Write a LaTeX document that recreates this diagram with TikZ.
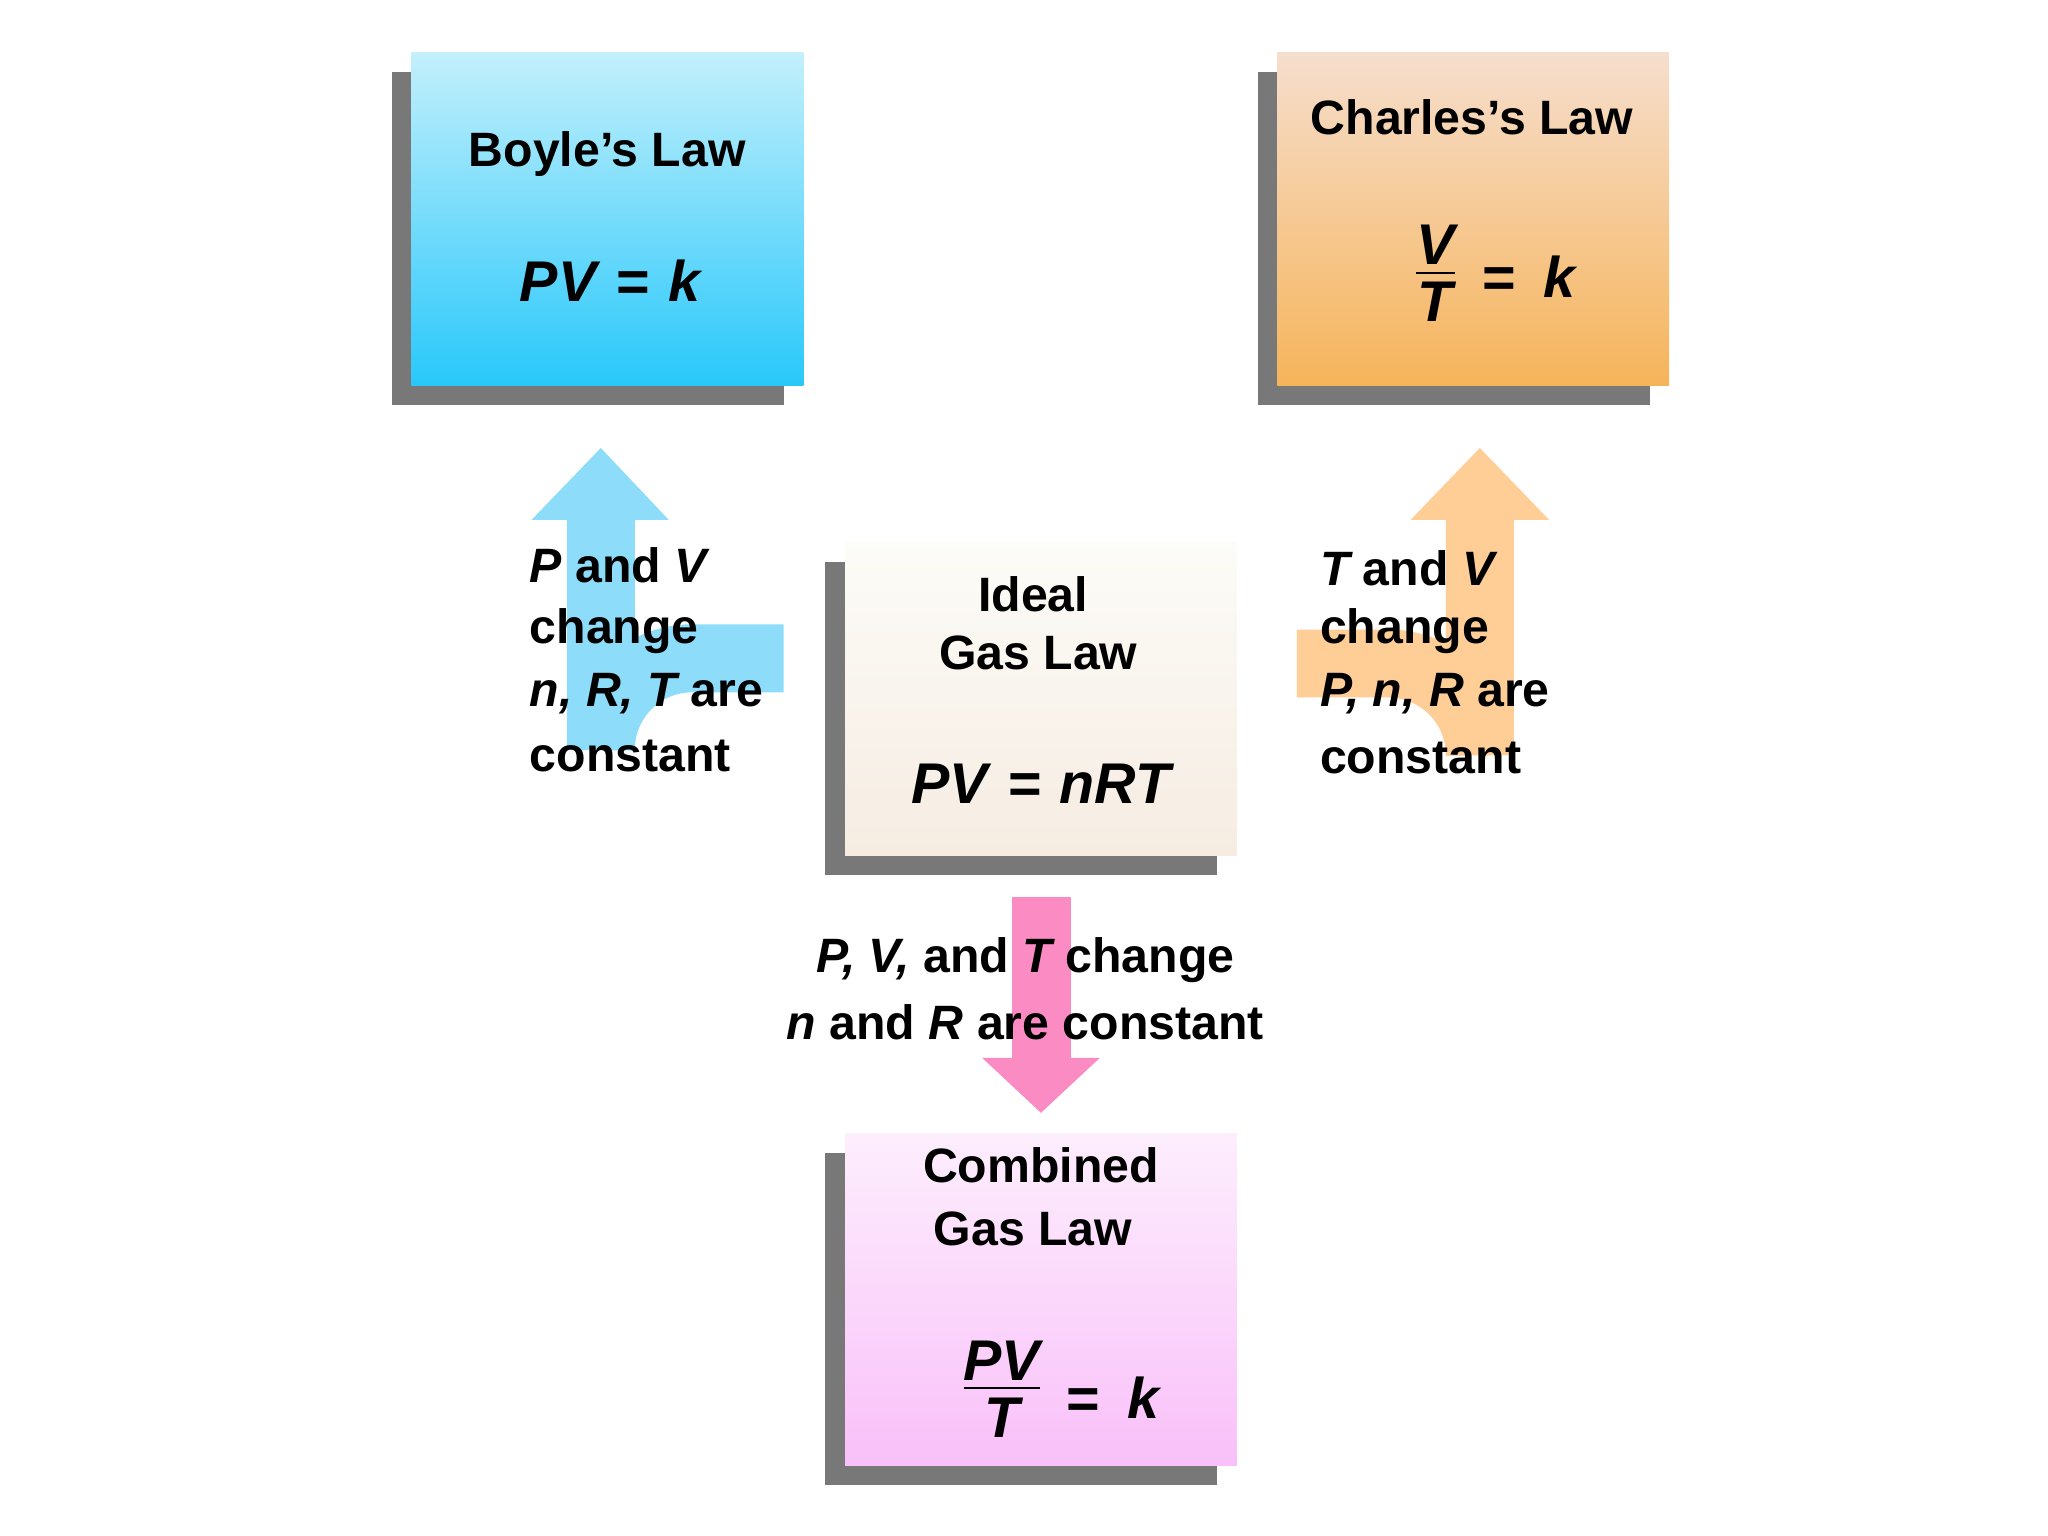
\documentclass[tikz,border=0pt]{standalone}
\usepackage{fontspec}
\setmainfont{Liberation Sans}
\usetikzlibrary{calc}
\definecolor{shad}{RGB}{120,120,120}
\definecolor{cyanA}{RGB}{195,240,252}
\definecolor{cyanB}{RGB}{40,200,250}
\definecolor{orA}{RGB}{246,222,205}
\definecolor{orB}{RGB}{246,180,90}
\definecolor{idA}{RGB}{252,252,248}
\definecolor{idB}{RGB}{246,236,226}
\definecolor{pkA}{RGB}{253,238,253}
\definecolor{pkB}{RGB}{249,192,249}
\definecolor{arC}{RGB}{140,220,250}
\definecolor{arO}{RGB}{255,205,150}
\definecolor{arP}{RGB}{250,140,195}
\tikzset{
 txt/.style={font=\fontsize{10.5}{13.6}\selectfont\bfseries, inner sep=0pt},
 eq/.style={font=\fontsize{12.5}{15}\selectfont\bfseries\itshape, inner sep=0pt},
 lbl/.style={font=\fontsize{10.5}{13.6}\selectfont\bfseries, inner sep=0pt, anchor=west},
}
\newcommand{\lawbox}[5]{% x1 y1 x2 y2 colorA colorB -> name
 \fill[shad] (#1-15,#2+15) rectangle (#3-15,#4+15);
}
\begin{document}
\begin{tikzpicture}[x=0.01cm,y=-0.01cm]
\useasboundingbox (0,0) rectangle (1568,1176);
\fill[white] (0,0) rectangle (1568,1176);
% shadows
\fill[shad] (300,55) rectangle (600,310);
\fill[shad] (963,55) rectangle (1263,310);
\fill[shad] (632,430) rectangle (932,670);
\fill[shad] (632,883) rectangle (932,1137);
% faces
\shade[top color=cyanA,bottom color=cyanB] (315,40) rectangle (615,295);
\shade[top color=orA,bottom color=orB] (978,40) rectangle (1278,295);
\shade[top color=idA,bottom color=idB] (647,415) rectangle (947,655);
\shade[top color=pkA,bottom color=pkB] (647,868) rectangle (947,1122);
% arrows
\draw[arC,line width=0.52cm] (600,504) -- (530,504) arc[start angle=270,end angle=180,radius=70] -- (460,396);
\fill[arC] (407,398) -- (512,398) -- (460,343) -- cycle;
\draw[arO,line width=0.52cm] (993,508) -- (1063,508) arc[start angle=270,end angle=360,radius=70] -- (1133,396);
\fill[arO] (1080,398) -- (1186,398) -- (1133,343) -- cycle;
\fill[arP] (775,687) rectangle (820,812);
\fill[arP] (752,810) -- (842,810) -- (797,852) -- cycle;
% texts
\node[txt] (boyle) at (465,118) {Boyle’s Law};
\node[eq] (boyleeq) at (467,215) {PV\,\,=\,\,k};
\node[txt] (charles) at (1127,90) {Charles’s Law};
\node[eq] (chfrac) at (1099,214) {\begin{tabular}{@{}c@{}}V\\[-3pt]\hline T\end{tabular}};
\node[eq] (cheq) at (1170,212) {=\,\,\,k};
\node[txt] (ideal1) at (791,455) {Ideal};
\node[txt] (ideal2) at (795,500) {Gas Law};
\node[eq] (idealeq) at (797,600) {PV\,\,=\,\,nRT};
\node[txt] (comb1) at (797,892) {Combined};
\node[txt] (comb2) at (791,941) {Gas Law};
\node[eq] (cfrac) at (767,1068) {\begin{tabular}{@{}c@{}}PV\\[-3pt]\hline T\end{tabular}};
\node[eq] (ceq) at (852,1070) {=\,\,\,k};
\node[lbl] (l1) at (405,433) {\itshape P\upshape\ and \itshape V};
\node[lbl] (l2) at (405,483) {change};
\node[lbl] (l3) at (405,531) {\itshape n, R, T\upshape\ are};
\node[lbl] (l4) at (405,579) {constant};
\node[lbl] (r1) at (1010,435) {\itshape T\upshape\ and \itshape V};
\node[lbl] (r2) at (1010,483) {change};
\node[lbl] (r3) at (1010,531) {\itshape P, n, R\upshape\ are};
\node[lbl] (r4) at (1010,580) {constant};
\node[txt] (m1) at (785,735) {\itshape P, V,\upshape\ and \itshape T\upshape\ change};
\node[txt] (m2) at (785,783) {\itshape n\upshape\ and \itshape R\upshape\ are constant};
\end{tikzpicture}
\end{document}
